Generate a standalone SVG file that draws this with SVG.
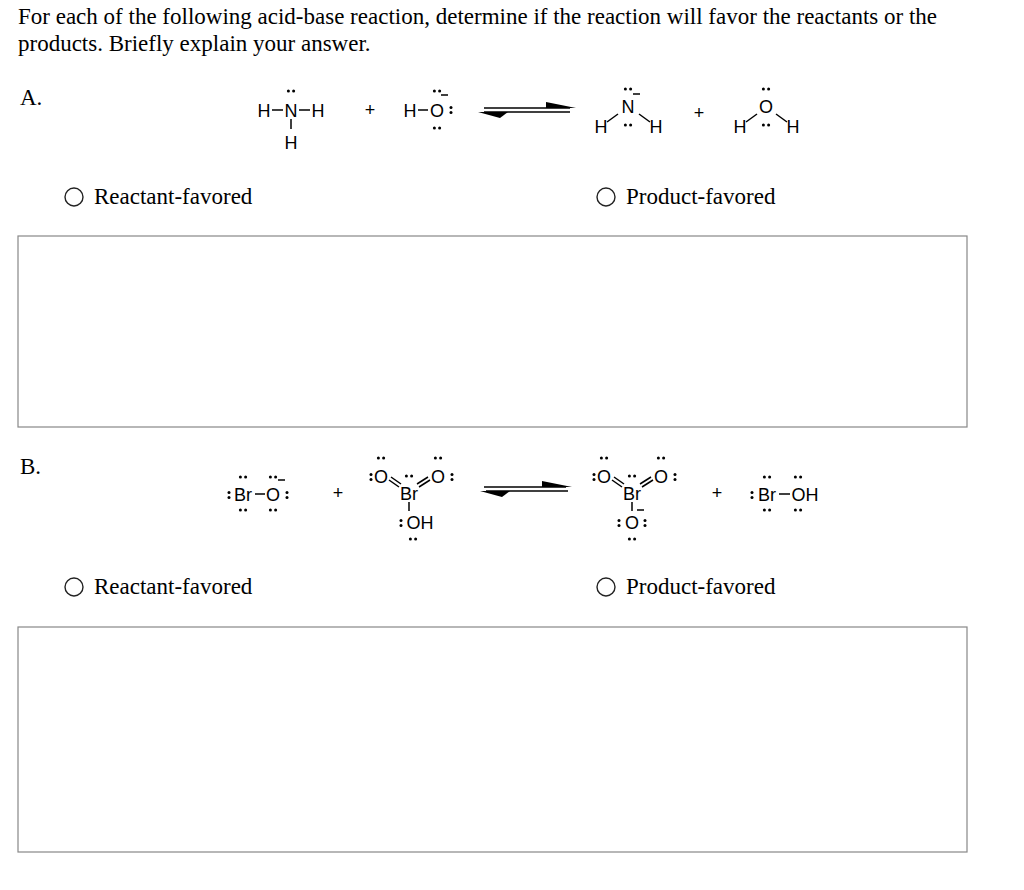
<svg xmlns="http://www.w3.org/2000/svg" width="1024" height="890" viewBox="0 0 1024 890">
<defs><style>
.t{font-family:"Liberation Serif",serif;font-size:23px;fill:#000}
.c{font-family:"Liberation Sans",Arial,sans-serif;font-size:18px;fill:#000;text-anchor:middle}
.b{fill:none;stroke:#888;stroke-width:1.2}
.r{fill:#fff;stroke:#222;stroke-width:1.4}
.l{stroke:#000;stroke-width:1.5;fill:none}
</style>
<g id="h"><circle cx="-2.6" cy="0" r="1.5"/><circle cx="2.6" cy="0" r="1.5"/></g>
<g id="v"><circle cx="0" cy="-2.6" r="1.5"/><circle cx="0" cy="2.6" r="1.5"/></g>
</defs>
<rect width="1024" height="890" fill="#fff"/>
<text class="t" x="18" y="24">For each of the following acid-base reaction, determine if the reaction will favor the reactants or the</text>
<text class="t" x="18" y="51">products. Briefly explain your answer.</text>
<text class="t" x="20" y="105">A.</text>
<text class="t" x="20" y="474">B.</text>
<g id="reactionA">
<text class="c" x="264" y="117">H</text><line class="l" x1="272" y1="110" x2="283" y2="110"/>
<text class="c" x="291" y="117">N</text><use href="#h" x="291" y="91"/>
<line class="l" x1="299" y1="110" x2="310" y2="110"/><text class="c" x="318" y="117">H</text>
<line class="l" x1="291" y1="119" x2="291" y2="129"/><text class="c" x="291" y="149">H</text>
<text class="c" x="370" y="116">+</text>
<text class="c" x="410" y="117">H</text><line class="l" x1="418" y1="110" x2="428" y2="110"/>
<text class="c" x="437" y="117">O</text><use href="#h" x="437" y="91"/><use href="#h" x="437" y="128"/><use href="#v" x="451" y="110"/>
<line class="l" x1="441" y1="95" x2="448" y2="95"/>
<line class="l" x1="484" y1="108" x2="570" y2="108"/><path d="M546,102 L576,108 L546,108Z"/>
<line class="l" x1="484" y1="112" x2="570" y2="112"/><path d="M478,112 L508,112 L500,118Z"/>
<text class="c" x="628" y="113">N</text><use href="#h" x="628" y="89"/><line class="l" x1="633" y1="94" x2="640" y2="94"/>
<text class="c" x="601" y="133">H</text><text class="c" x="656" y="133">H</text>
<line class="l" x1="607" y1="122" x2="618" y2="114"/><line class="l" x1="639" y1="114" x2="650" y2="122"/>
<use href="#h" x="628" y="125"/>
<text class="c" x="699" y="119">+</text>
<text class="c" x="766" y="113">O</text><use href="#h" x="766" y="89"/><use href="#h" x="766" y="125"/>
<text class="c" x="740" y="133">H</text><text class="c" x="793" y="133">H</text>
<line class="l" x1="746" y1="122" x2="757" y2="114"/><line class="l" x1="776" y1="114" x2="787" y2="122"/>
</g>
<g id="optA1"><circle class="r" cx="74" cy="197" r="9"/><text class="t" x="94" y="204">Reactant-favored</text></g>
<g id="optA2"><circle class="r" cx="606" cy="197" r="9"/><text class="t" x="626" y="204">Product-favored</text></g>
<rect id="boxA" class="b" x="18" y="236" width="949" height="191"/>
<g id="reactionB">
<use href="#v" x="229" y="495"/><text class="c" x="243" y="501">Br</text><use href="#h" x="243" y="477"/><use href="#h" x="243" y="510"/>
<line class="l" x1="255" y1="494" x2="265" y2="494"/>
<text class="c" x="273" y="501">O</text><use href="#h" x="273" y="477"/><use href="#h" x="273" y="510"/><use href="#v" x="287" y="495"/>
<line class="l" x1="278" y1="480" x2="285" y2="480"/>
<text class="c" x="338" y="499">+</text>
<use href="#v" x="371" y="477"/><text class="c" x="381" y="483">O</text><use href="#h" x="381" y="458"/>
<text class="c" x="438" y="483">O</text><use href="#h" x="438" y="458"/><use href="#v" x="452" y="477"/>
<use href="#h" x="409" y="476"/>
<text class="c" x="409" y="500">Br</text>
<line class="l" x1="389" y1="480" x2="399" y2="487"/><line class="l" x1="391" y1="477" x2="401" y2="484"/>
<line class="l" x1="419" y1="487" x2="430" y2="480"/><line class="l" x1="417" y1="484" x2="428" y2="477"/>
<line class="l" x1="409" y1="502" x2="409" y2="511"/>
<use href="#v" x="401" y="523"/><text class="c" x="420" y="529">OH</text><use href="#h" x="413" y="539"/>
<line class="l" x1="484" y1="487" x2="566" y2="487"/><path d="M542,481 L572,487 L542,487Z"/>
<line class="l" x1="486" y1="491" x2="568" y2="491"/><path d="M480,491 L510,491 L502,497Z"/>
<use href="#v" x="594" y="477"/><text class="c" x="604" y="483">O</text><use href="#h" x="604" y="458"/>
<text class="c" x="661" y="483">O</text><use href="#h" x="661" y="458"/><use href="#v" x="675" y="477"/>
<use href="#h" x="632" y="476"/>
<text class="c" x="632" y="500">Br</text>
<line class="l" x1="612" y1="480" x2="622" y2="487"/><line class="l" x1="614" y1="477" x2="624" y2="484"/>
<line class="l" x1="642" y1="487" x2="653" y2="480"/><line class="l" x1="640" y1="484" x2="651" y2="477"/>
<line class="l" x1="632" y1="502" x2="632" y2="511"/>
<use href="#v" x="619" y="523"/><text class="c" x="632" y="529">O</text><use href="#v" x="645" y="523"/><use href="#h" x="632" y="539"/>
<line class="l" x1="637" y1="510" x2="644" y2="510"/>
<text class="c" x="717" y="499">+</text>
<use href="#v" x="752" y="495"/><text class="c" x="767" y="501">Br</text><use href="#h" x="767" y="477"/><use href="#h" x="767" y="510"/>
<line class="l" x1="779" y1="494" x2="790" y2="494"/>
<text class="c" x="805" y="501">OH</text><use href="#h" x="798" y="477"/><use href="#h" x="798" y="510"/>
</g>
<g id="optB1"><circle class="r" cx="74" cy="587" r="9"/><text class="t" x="94" y="594">Reactant-favored</text></g>
<g id="optB2"><circle class="r" cx="606" cy="587" r="9"/><text class="t" x="626" y="594">Product-favored</text></g>
<rect id="boxB" class="b" x="18" y="627" width="949" height="225"/>
</svg>
